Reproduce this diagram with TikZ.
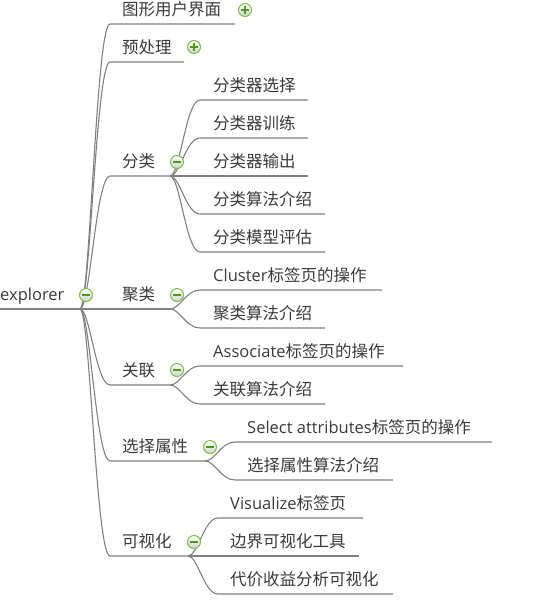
\documentclass[tikz,border=0pt]{standalone}
\usepackage{fontspec}
\setmainfont{Noto Sans CJK SC}
\newfontfamily\lat{Open Sans}
\usetikzlibrary{calc}
\definecolor{textc}{HTML}{3A3A3A}
\definecolor{linec}{HTML}{808080}
\definecolor{ringc}{HTML}{7DBE4A}
\definecolor{signc}{HTML}{4E9A1E}
\tikzset{
  txt/.style={anchor=base west, inner sep=0pt, text=textc, font=\fontsize{16.5}{18}\selectfont},
  ul/.style={draw=linec, line width=1.1pt},
  br/.style={draw=linec, line width=1.1pt,
    to path={.. controls ($(\tikztostart)+(10,0)$) and ($(\tikztotarget)+(-14,0)$) .. (\tikztotarget)}},
  tog/.style={circle, draw=ringc, line width=1pt, minimum size=13pt, inner sep=0pt,
    top color=white, bottom color=black!18},
  minus/.style={tog, path picture={\draw[signc, line width=1.1pt]
    ([xshift=-3.6pt]path picture bounding box.center) -- ([xshift=3.6pt]path picture bounding box.center);}},
  plus/.style={tog, path picture={\draw[signc, line width=1.1pt]
    ([xshift=-3.6pt]path picture bounding box.center) -- ([xshift=3.6pt]path picture bounding box.center)
    ([yshift=-3.6pt]path picture bounding box.center) -- ([yshift=3.6pt]path picture bounding box.center);}}
}
\begin{document}
\begin{tikzpicture}[x=1pt,y=-1pt]
\useasboundingbox (0,0) rectangle (534,606);
% root
\node[txt] (root) at (0,300.5) {{\lat explorer}};
\coordinate (root-s) at (0,309); \coordinate (root-e) at (80,309);
\draw[ul] (root-s) -- (root-e);
% level 1
\node[txt] (gui) at (122,15.5) {图形用户界面};
\coordinate (gui-s) at (110,24); \coordinate (gui-e) at (235,24);
\node[txt] (pre) at (122,53.5) {预处理};
\coordinate (pre-s) at (110,62); \coordinate (pre-e) at (184,62);
\node[txt] (cls) at (122,167.5) {分类};
\coordinate (cls-s) at (110,176); \coordinate (cls-e) at (170,176);
\node[txt] (clu) at (122,300.5) {聚类};
\coordinate (clu-s) at (110,309); \coordinate (clu-e) at (170,309);
\node[txt] (ass) at (122,376.5) {关联};
\coordinate (ass-s) at (110,385); \coordinate (ass-e) at (170,385);
\node[txt] (sel) at (122,452.5) {选择属性};
\coordinate (sel-s) at (110,461); \coordinate (sel-e) at (205,461);
\node[txt] (vis) at (122,547.5) {可视化};
\coordinate (vis-s) at (110,556); \coordinate (vis-e) at (188,556);
\foreach \n in {gui,pre,cls,clu,ass,sel,vis}
  \draw[br] (root-e) to (\n-s) -- (\n-e);
% classification children
\node[txt] (c1) at (213,91.5) {分类器选择};
\coordinate (c1-s) at (200,100); \coordinate (c1-e) at (308,100);
\node[txt] (c2) at (213,129.5) {分类器训练};
\coordinate (c2-s) at (200,138); \coordinate (c2-e) at (308,138);
\node[txt] (c3) at (213,167.5) {分类器输出};
\coordinate (c3-s) at (200,176); \coordinate (c3-e) at (308,176);
\node[txt] (c4) at (213,205.5) {分类算法介绍};
\coordinate (c4-s) at (200,214); \coordinate (c4-e) at (325,214);
\node[txt] (c5) at (213,243.5) {分类模型评估};
\coordinate (c5-s) at (200,252); \coordinate (c5-e) at (325,252);
\foreach \n in {c1,c2,c3,c4,c5}
  \draw[br] (cls-e) to (\n-s) -- (\n-e);
% clustering children
\node[txt] (k1) at (213,281.5) {{\lat Cluster}标签页的操作};
\coordinate (k1-s) at (200,290); \coordinate (k1-e) at (382,290);
\node[txt] (k2) at (213,319.5) {聚类算法介绍};
\coordinate (k2-s) at (200,328); \coordinate (k2-e) at (325,328);
\foreach \n in {k1,k2}
  \draw[br] (clu-e) to (\n-s) -- (\n-e);
% association children
\node[txt] (a1) at (213,357.5) {{\lat Associate}标签页的操作};
\coordinate (a1-s) at (200,366); \coordinate (a1-e) at (403,366);
\node[txt] (a2) at (213,395.5) {关联算法介绍};
\coordinate (a2-s) at (200,404); \coordinate (a2-e) at (325,404);
\foreach \n in {a1,a2}
  \draw[br] (ass-e) to (\n-s) -- (\n-e);
% attribute selection children
\node[txt] (s1) at (247,433.5) {{\lat Select attributes}标签页的操作};
\coordinate (s1-s) at (235,442); \coordinate (s1-e) at (492,442);
\node[txt] (s2) at (247,471.5) {选择属性算法介绍};
\coordinate (s2-s) at (235,480); \coordinate (s2-e) at (393,480);
\foreach \n in {s1,s2}
  \draw[br] (sel-e) to (\n-s) -- (\n-e);
% visualization children
\node[txt] (v1) at (230,509.5) {{\lat Visualize}标签页};
\coordinate (v1-s) at (218,518); \coordinate (v1-e) at (363,518);
\node[txt] (v2) at (230,547.5) {边界可视化工具};
\coordinate (v2-s) at (218,556); \coordinate (v2-e) at (359,556);
\node[txt] (v3) at (230,585.5) {代价收益分析可视化};
\coordinate (v3-s) at (218,594); \coordinate (v3-e) at (393,594);
\foreach \n in {v1,v2,v3}
  \draw[br] (vis-e) to (\n-s) -- (\n-e);
% toggles
\node[minus] (t-root) at (86,295) {};
\node[plus] (t-gui) at (245,10) {};
\node[plus] (t-pre) at (194,47) {};
\node[minus] (t-cls) at (177,162) {};
\node[minus] (t-clu) at (177,295) {};
\node[minus] (t-ass) at (177,370) {};
\node[minus] (t-sel) at (210,447) {};
\node[minus] (t-vis) at (194,542) {};
\end{tikzpicture}
\end{document}
